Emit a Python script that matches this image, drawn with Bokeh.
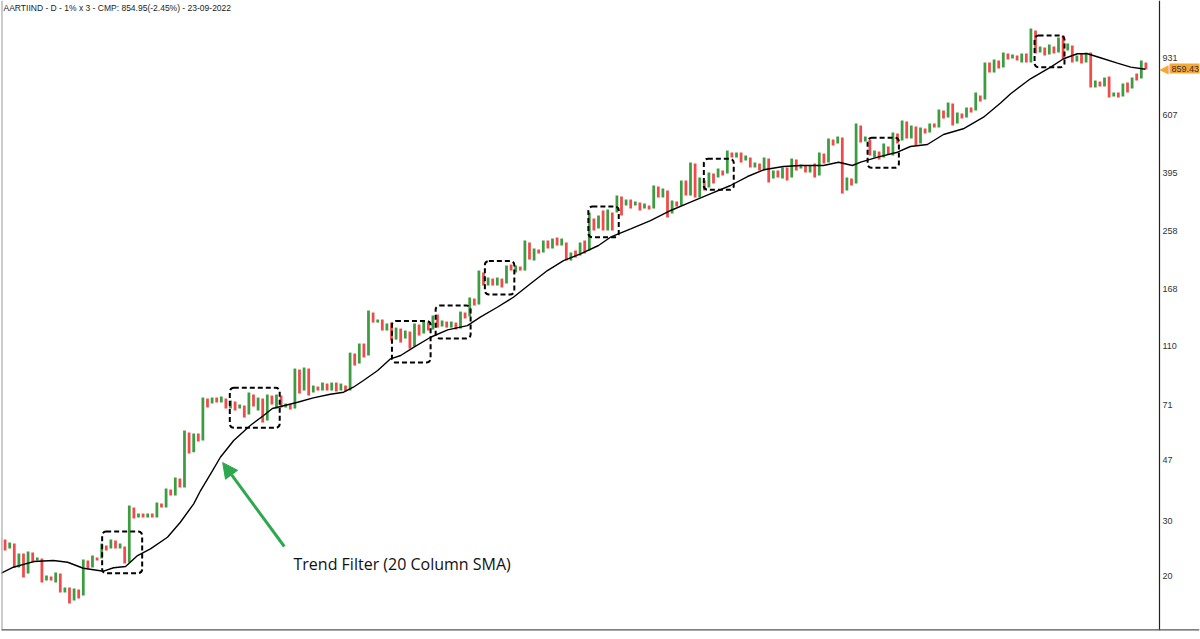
import math
from bokeh.plotting import figure
from bokeh.models import (Range1d, FixedTicker, PrintfTickFormatter, Label, BoxAnnotation,
                          Arrow, NormalHead, Span)
from bokeh.embed import file_html
from bokeh.resources import INLINE

# ---------------- data ----------------
title_text = "AARTIIND - D - 1% x 3 - CMP: 854.95(-2.45%) - 23-09-2022"
note_text = "Trend Filter (20 Column SMA)"

# column highs / lows (1% x 3 point & figure columns, alternating up / down, first one up)
col_high = [
    26.31, 26.11, 25.54, 25.35, 23.54, 23.54, 23.89, 23.72, 22.85, 22.68,
    20.00, 19.85, 20.45, 20.30, 18.30, 18.30, 18.16, 18.03, 22.51, 22.35,
    23.19, 22.85, 25.35, 24.98, 26.11, 25.92, 25.35, 24.79, 33.60, 33.11,
    31.67, 31.67, 31.67, 31.67, 34.36, 34.10, 38.12, 37.84, 41.36, 41.06,
    58.62, 57.76, 57.33, 57.33, 74.88, 74.33, 74.88, 74.88, 75.44, 74.33,
    73.24, 72.70, 71.09, 70.57, 77.72, 76.57, 74.88, 74.33, 76.57, 76.00,
    76.57, 76.00, 71.63, 71.09, 92.86, 92.17, 93.55, 92.86, 81.86, 81.25,
    83.70, 83.08, 83.70, 83.70, 83.08, 81.86, 104.5, 103.8, 111.8, 111.8,
    142.8, 140.7, 133.6, 133.6, 129.7, 130.6, 125.8, 124.9, 123.1, 122.2,
    129.7, 128.7, 131.6, 130.6, 137.6, 138.6, 132.6, 131.6, 131.6, 130.6,
    141.7, 140.7, 157.3, 156.1, 192.1, 189.3, 182.4, 181.0, 182.4, 181.0,
    199.4, 200.8, 199.4, 197.9, 240.0, 236.5, 226.2, 224.5, 240.0, 240.0,
    243.6, 245.4, 243.6, 236.5, 219.5, 222.8, 236.5, 240.0, 295.5, 282.5,
    288.9, 299.9, 302.1, 295.5, 335.2, 332.7, 325.4, 325.4, 320.5, 318.2,
    315.8, 311.2, 361.0, 358.3, 353.1, 347.8, 322.9, 320.5, 374.6, 374.6,
    428.2, 425.0, 383.1, 374.6, 397.6, 394.6, 409.5, 403.5, 468.0, 461.1,
    461.1, 461.1, 451.0, 444.4, 428.2, 425.0, 444.4, 441.1, 403.5, 403.5,
    412.5, 412.5, 441.1, 437.8, 421.9, 418.7, 418.7, 425.0, 461.1, 457.7,
    511.7, 507.9, 519.3, 515.5, 383.1, 380.2, 571.8, 563.4, 519.3, 507.9,
    468.0, 464.5, 493.0, 482.1, 534.9, 531.0, 584.7, 580.4, 563.4, 559.2,
    555.1, 551.0, 571.8, 571.8, 634.5, 629.8, 668.3, 663.4, 620.5, 615.9,
    644.0, 644.0, 719.8, 703.9, 899.2, 899.2, 919.4, 912.6, 968.5, 961.3,
    954.1, 947.1, 961.3, 961.3, 1157, 1140, 1012, 1005, 1027, 1012,
    1082, 1098, 1035, 1020, 947.1, 961.3, 968.5, 968.5, 786.8, 781.0,
    804.5, 810.5, 719.8, 719.8, 769.5, 775.2, 804.5, 828.7, 912.6, 899.2,
]
col_low = [
    24.07, 24.07, 24.43, 21.22, 21.22, 19.71, 20.30, 22.02, 22.35, 18.99,
    19.27, 19.27, 18.99, 17.64, 17.64, 16.25, 16.62, 16.86, 17.24, 21.07,
    21.22, 22.35, 22.68, 24.07, 24.43, 24.43, 24.43, 21.86, 22.02, 30.51,
    30.74, 30.74, 30.74, 30.74, 30.74, 33.11, 33.11, 36.19, 36.19, 38.41,
    38.41, 49.43, 49.90, 54.03, 54.43, 69.53, 71.63, 72.16, 72.16, 69.02,
    69.02, 68.00, 69.02, 64.56, 66.01, 70.05, 68.00, 62.21, 63.14, 71.09,
    69.02, 69.53, 69.53, 68.50, 69.02, 77.14, 78.88, 76.00, 77.72, 78.88,
    78.88, 78.88, 78.88, 78.30, 78.88, 78.30, 78.88, 94.95, 96.37, 100.8,
    102.3, 130.6, 130.6, 123.1, 123.1, 114.3, 115.1, 112.6, 116.0, 107.7,
    109.3, 118.6, 120.4, 123.1, 124.0, 125.8, 126.8, 125.8, 125.8, 124.0,
    124.9, 134.6, 136.6, 148.2, 149.3, 171.9, 171.9, 171.9, 171.9, 169.4,
    174.5, 192.1, 189.3, 192.1, 192.1, 208.4, 206.9, 217.9, 219.5, 226.2,
    226.2, 231.3, 231.3, 206.9, 206.9, 211.5, 214.7, 217.9, 222.8, 258.5,
    262.4, 258.5, 258.5, 258.5, 295.5, 288.9, 311.2, 304.3, 311.2, 299.9,
    304.3, 302.1, 304.3, 330.3, 330.3, 284.6, 293.3, 308.9, 311.2, 335.2,
    335.2, 330.3, 330.3, 347.8, 355.7, 366.4, 383.1, 388.8, 394.6, 444.4,
    444.4, 428.2, 434.6, 412.5, 412.5, 403.5, 403.5, 369.1, 380.2, 383.1,
    380.2, 374.6, 383.1, 403.5, 409.5, 397.6, 397.6, 383.1, 388.8, 425.0,
    428.2, 485.7, 493.0, 340.1, 347.8, 361.0, 366.4, 496.7, 500.4, 451.0,
    444.4, 437.8, 444.4, 454.3, 451.0, 493.0, 504.1, 511.7, 511.7, 485.7,
    493.0, 531.0, 534.9, 555.1, 555.1, 593.4, 597.9, 563.4, 571.8, 593.4,
    597.9, 620.5, 629.8, 673.3, 683.3, 834.9, 834.9, 860.1, 866.5, 919.4,
    926.3, 912.6, 899.2, 899.2, 899.2, 961.3, 968.5, 947.1, 954.1, 961.3,
    968.5, 919.4, 982.9, 899.2, 905.8, 892.5, 899.2, 746.9, 746.9, 752.5,
    752.5, 693.5, 698.7, 693.5, 698.7, 719.8, 741.4, 786.8, 798.5, 855.0,
]

# 20 column SMA, read at these column positions
sma_col = [0.0, 2.8, 7.2, 11.5, 14.6, 18.0, 22.4, 24.6, 27.2, 29.8, 32.6, 36.3, 39.1,
           42.0, 43.5, 46.1, 47.8, 50.7, 54.3, 57.2, 59.1, 60.9, 64.6, 68.0, 71.7,
           74.6, 76.7, 78.9, 82.0, 84.8, 87.0, 89.8, 93.5, 97.2, 101.5, 104.3, 108.0,
           111.5, 115.2, 118.9, 122.4, 126.1, 130.0, 132.6, 137.0, 141.3, 145.7,
           150.0, 154.3, 158.7, 162.4, 165.9, 170.2, 173.9, 178.9, 182.2, 185.2,
           187.0, 190.7, 195.0, 197.8, 201.5, 205.0, 209.3, 213.7, 217.4, 219.6,
           223.9, 228.3, 231.1, 234.1, 236.3, 239.1, 242.8, 245.7, 248.9]
sma_val = [20.3, 21.27, 22.18, 22.35, 22.07, 21.11, 20.65, 21.18, 21.38, 23.19, 24.38,
           26.56, 29.69, 34.03, 37.56, 43.57, 48.09, 54.43, 60.84, 65.52, 69.02, 70.05,
           72.32, 74.71, 76.74, 77.89, 80.83, 84.95, 91.49, 99.79, 102.3, 108.7, 117.1,
           123.7, 127.7, 135.9, 146.3, 157.6, 174.1, 192.1, 206.9, 217.4, 231.3, 246.0,
           261.8, 278.4, 299.9, 318.9, 339.5, 361.0, 385.9, 405.6, 415.6, 418.7, 418.7,
           429.1, 418.7, 429.1, 445.4, 462.1, 482.1, 489.3, 527.1, 549.8, 599.2, 665.8,
           712.8, 796.8, 868.4, 924.2, 959.1, 959.1, 931.1, 894.4, 868.4, 855.0]
last_sma = 859.43

# highlighted patterns (dashed boxes): column span and price span
box_left = [22.1, 49.85, 85.1, 94.6, 105.3, 127.8, 152.9, 188.5, 224.8]
box_right = [30.8, 60.7, 93.5, 102.2, 111.7, 134.4, 159.4, 195.3, 231.3]
box_top = [27.71, 80.47, 132.1, 148.2, 206.1, 308.9, 440.1, 514.3, 1098]
box_bottom = [20.35, 59.8, 97.1, 116.0, 160.8, 246.0, 349.7, 411.6, 868.4]

tick_values = [20, 30, 47, 71, 110, 168, 258, 395, 607, 931]

# annotation arrow (tail near the note, head on the SMA) and note position
arrow_tail = (61.7, 24.8)
arrow_head = (48.3, 46.2)
note_pos = (63.7, 21.86)

# visible extent of the chart (column index / price)
x_start, x_end = 0.22, 260.65
axis_col = 251.96
y_bottom, y_top = 13.3, 1424.0

GREEN = "#3c9d40"
RED = "#f04a4a"
ARROW_GREEN = "#2da84d"
ORANGE = "#f7a733"

# ---------------- figure ----------------
n = len(col_high)
cols = list(range(n))
colors = [GREEN if i % 2 == 0 else RED for i in cols]

p = figure(width=1200, height=639, y_axis_type="log", y_axis_location="right",
           x_axis_location=None,
           x_range=Range1d(x_start, x_end), y_range=Range1d(y_bottom, y_top),
           output_backend="svg", toolbar_location=None,
           min_border_left=1, min_border_right=1, min_border_top=0, min_border_bottom=9)
p.grid.visible = False
p.outline_line_color = None
p.background_fill_color = "white"
p.border_fill_color = "white"

yax = p.yaxis[0]
yax.fixed_location = axis_col
yax.ticker = FixedTicker(ticks=tick_values, minor_ticks=[])
yax.formatter = PrintfTickFormatter(format="%d")
yax.major_tick_out = 0
yax.major_tick_in = 0
yax.minor_tick_out = 0
yax.minor_tick_in = 0
yax.major_label_standoff = 3
yax.major_label_text_font = "Liberation Sans"
yax.major_label_text_font_size = "9px"
yax.major_label_text_color = "#333333"
yax.axis_line_color = "#222222"
yax.axis_line_width = 1.2

p.add_layout(Span(location=x_start, dimension="height", line_color="#9a9a9a", line_width=2))
p.add_layout(Span(location=y_bottom, dimension="width", line_color="#555555", line_width=2.5))

p.vbar(x=cols, width=0.6, top=col_high, bottom=col_low, fill_color=colors, line_color=None)

p.line(sma_col, sma_val, line_color="black", line_width=1.4)

for l, r, t, b in zip(box_left, box_right, box_top, box_bottom):
    p.add_layout(BoxAnnotation(left=l, right=r, top=t, bottom=b, fill_alpha=0,
                               line_color="black", line_alpha=1.0, line_width=2,
                               line_dash="5 3", border_radius=4))

p.add_layout(Arrow(end=NormalHead(size=15, fill_color=ARROW_GREEN, line_color=ARROW_GREEN),
                   x_start=arrow_tail[0], y_start=arrow_tail[1],
                   x_end=arrow_head[0], y_end=arrow_head[1],
                   line_color=ARROW_GREEN, line_width=3))

p.add_layout(Label(x=note_pos[0], y=note_pos[1], text=note_text, text_baseline="middle",
                   text_font="Open Sans", text_font_size="16px", text_color="#111111"))

title_y = y_top * math.exp(-2.5 / 134.8)
p.add_layout(Label(x=x_start, y=title_y, x_offset=2, text=title_text, text_baseline="top",
                   text_font="Liberation Sans", text_font_size="8.5px", text_color="#222222"))

p.add_layout(Label(x=axis_col, y=last_sma, x_offset=0, text="\u25C0", text_baseline="middle",
                   text_font="DejaVu Sans", text_font_size="12px", text_color=ORANGE))
p.add_layout(Label(x=axis_col, y=last_sma, x_offset=10, text="859.43", text_baseline="middle",
                   text_font="Liberation Sans", text_font_size="9px", text_color="#333333",
                   background_fill_color=ORANGE, padding=2))

open("out.html", "w").write(file_html(p, INLINE))
